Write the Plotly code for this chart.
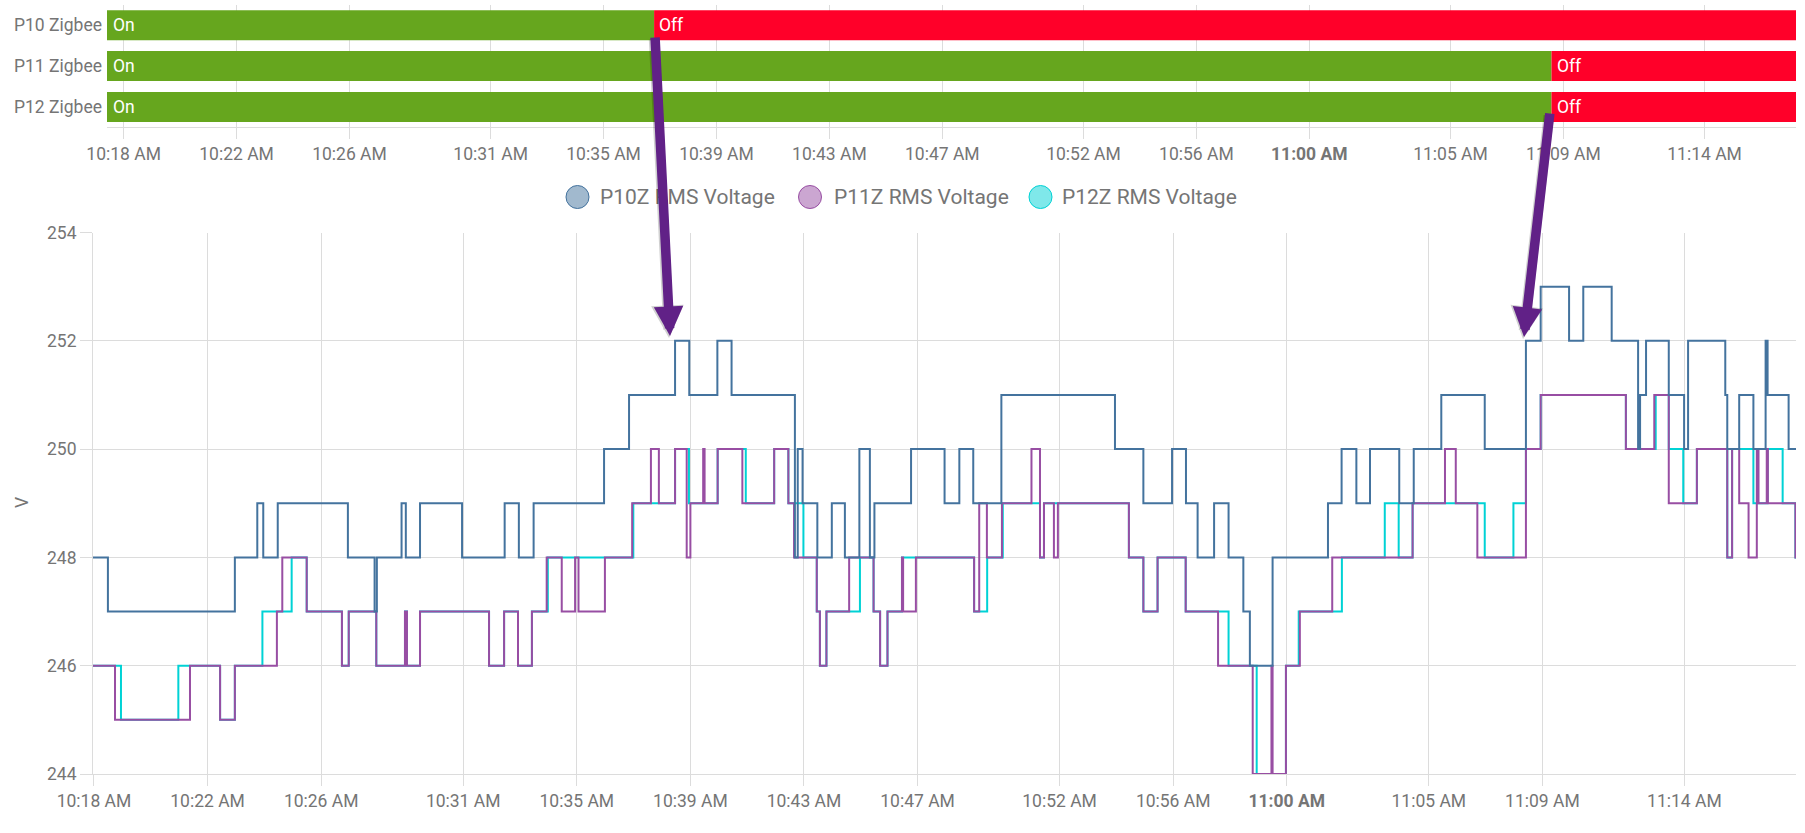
import pandas as pd
import plotly.graph_objects as go

W, H = 1805, 833
BASE = pd.Timestamp("2023-01-01 10:18:00")

tick_minutes = [0, 4, 8, 13, 17, 21, 25, 29, 34, 38, 42, 47, 51, 56]
tick_labels = ["10:18 AM", "10:22 AM", "10:26 AM", "10:31 AM", "10:35 AM", "10:39 AM", "10:43 AM",
               "10:47 AM", "10:52 AM", "10:56 AM", "<b>11:00 AM</b>", "11:05 AM", "11:09 AM", "11:14 AM"]

devices = ["P10 Zigbee", "P11 Zigbee", "P12 Zigbee"]
off_start_minutes = [18.79, 50.58, 50.58]
timeline_start = -0.59
timeline_end = 59.24

series_names = ["P10Z RMS Voltage", "P11Z RMS Voltage", "P12Z RMS Voltage"]

p10_minutes = [-0.04, 0.49, 4.96, 5.75, 5.96, 6.47, 8.94, 9.88, 9.96, 10.83, 10.98, 11.48, 12.96, 14.46, 14.96, 15.48,
               17.96, 18.84, 20.46, 20.96, 21.95, 22.45, 24.68, 24.78, 24.95, 25.47, 25.98, 26.44, 26.95, 27.32, 27.48,
               28.77, 29.95, 30.47, 30.96, 31.95, 35.95, 36.95, 37.96, 38.45, 38.86, 39.44, 39.95, 40.47, 40.70, 41.50,
               43.45, 43.93, 44.45, 44.93, 45.96, 46.47, 47.44, 48.97, 50.42, 50.94, 51.94, 52.44, 53.44, 54.37, 54.44,
               54.65, 55.45, 55.99, 56.13, 57.44, 57.51, 57.93, 58.43, 58.86, 58.93, 59.67, 59.93]
p10_volts = [248, 247, 248, 249, 248, 249, 248, 247, 248, 249, 248, 249, 248, 249, 248, 249,
             250, 251, 252, 251, 252, 251, 248, 250, 249, 248, 249, 248, 250, 248, 249,
             250, 249, 250, 249, 251, 250, 249, 250, 249, 248, 249, 248, 247, 246, 248,
             249, 250, 249, 250, 249, 250, 251, 250, 252, 253, 252, 253, 252, 250, 251,
             252, 251, 250, 252, 251, 250, 251, 250, 252, 251, 250, 250]

p11_minutes = [-0.04, 0.74, 3.38, 4.44, 4.96, 6.44, 6.63, 7.49, 8.73, 8.97, 9.94, 10.95, 11.02, 11.48, 13.91, 14.44,
               14.93, 15.42, 15.94, 16.47, 16.94, 17.06, 17.99, 18.95, 19.61, 19.89, 20.46, 20.87, 21.00, 21.45, 21.50,
               21.96, 22.83, 23.95, 24.45, 24.65, 25.45, 25.56, 25.79, 26.59, 27.45, 27.68, 27.94, 28.45, 28.49, 28.94,
               30.99, 31.17, 31.44, 31.97, 33.01, 33.31, 33.45, 33.80, 33.94, 36.44, 36.95, 37.45, 38.44, 39.58, 40.80,
               41.46, 41.50, 41.97, 42.46, 43.60, 46.43, 47.57, 47.95, 48.71, 50.42, 50.94, 53.94, 54.94, 55.45, 56.44,
               57.51, 57.68, 57.93, 58.26, 58.55, 58.61, 58.90, 58.94, 59.91, 59.93]
p11_volts = [246, 245, 246, 245, 246, 247, 248, 247, 246, 247, 246, 247, 246, 247, 246, 247,
             246, 247, 248, 247, 248, 247, 248, 249, 250, 249, 250, 248, 249, 250, 249,
             250, 249, 250, 249, 248, 247, 246, 247, 248, 247, 246, 247, 248, 247, 248,
             247, 249, 248, 249, 250, 248, 249, 248, 249, 248, 247, 248, 247, 246, 244,
             246, 244, 246, 247, 248, 249, 250, 249, 248, 250, 251, 250, 251, 249, 250,
             248, 250, 249, 248, 250, 249, 250, 249, 248, 248]

p12_minutes = [-0.04, 0.95, 2.97, 4.44, 4.96, 5.93, 6.96, 7.49, 8.73, 8.97, 9.94, 10.95, 11.02, 11.48, 13.91, 14.44,
               14.93, 15.42, 15.98, 18.99, 20.46, 20.95, 21.96, 22.95, 23.95, 24.45, 24.98, 25.45, 25.56, 25.79, 26.97,
               27.45, 27.68, 27.94, 28.45, 30.99, 31.45, 32.00, 33.31, 33.45, 36.44, 36.95, 37.45, 38.44, 39.95, 40.94,
               41.97, 42.42, 43.94, 45.45, 45.94, 46.43, 48.97, 49.98, 50.42, 50.94, 53.94, 54.99, 55.45, 55.96, 56.44,
               57.51, 57.68, 58.43, 58.93, 59.46, 59.91, 59.93]
p12_volts = [246, 245, 246, 245, 246, 247, 248, 247, 246, 247, 246, 247, 246, 247, 246, 247,
             246, 247, 248, 249, 250, 249, 250, 249, 250, 249, 248, 247, 246, 247, 248,
             247, 246, 247, 248, 247, 248, 249, 248, 249, 248, 247, 248, 247, 246, 244,
             246, 247, 248, 249, 248, 249, 248, 249, 250, 251, 250, 251, 250, 249, 250,
             248, 250, 249, 250, 249, 248, 248]

BLUE, PURPLE, CYAN = "#44739e", "#984ea3", "#00d2d5"
GREEN, RED = "#66a61e", "#ff0029"
TEXT = "#757575"
GRID = "#dcdcdc"
ARROW = "#612187"
FONT = "Roboto"


def when(minutes):
    return BASE + pd.to_timedelta(minutes, unit="m")


def px_x(p):
    return p / W


def px_y(p):
    return 1 - p / H


fig = go.Figure()

# Timeline rows on top
for state, color, starts, ends in [
    ("On", GREEN, [timeline_start] * 3, off_start_minutes),
    ("Off", RED, off_start_minutes, [timeline_end] * 3),
]:
    fig.add_trace(go.Bar(
        y=devices,
        x=[(e - s) * 60000 for s, e in zip(starts, ends)],
        base=[when(s) for s in starts],
        orientation="h", width=0.735,
        marker=dict(color=color, line=dict(width=0)),
        name=state, showlegend=False, xaxis="x2", yaxis="y2", hoverinfo="skip",
    ))

# Voltage step lines; first-named series draws last so it sits on top
for name, xs, ys, color in [
    (series_names[2], p12_minutes, p12_volts, CYAN),
    (series_names[1], p11_minutes, p11_volts, PURPLE),
    (series_names[0], p10_minutes, p10_volts, BLUE),
]:
    fig.add_trace(go.Scatter(
        x=[when(m) for m in xs], y=ys, name=name, mode="lines",
        line=dict(color=color, width=2, shape="hv"), showlegend=False,
    ))

tick_times = [when(m) for m in tick_minutes]
axis_font = dict(family=FONT, size=17.5, color=TEXT)

fig.update_layout(
    width=W, height=H, autosize=False,
    margin=dict(l=0, r=0, t=0, b=0),
    paper_bgcolor="white", plot_bgcolor="white",
    font=dict(family=FONT, color=TEXT, size=17.5),
    barmode="overlay",
    xaxis=dict(
        type="date", domain=[px_x(93), px_x(1796)], anchor="y", automargin=False,
        range=[when(-0.035), when(59.93)],
        tickmode="array", tickvals=tick_times, ticktext=tick_labels,
        showgrid=True, gridcolor=GRID, gridwidth=1, showline=True, linecolor=GRID, linewidth=1,
        ticks="outside", ticklen=11, tickcolor=GRID, tickwidth=1, tickfont=axis_font, tickangle=0, zeroline=False,
    ),
    yaxis=dict(
        domain=[px_y(774), px_y(232.5)], anchor="x", automargin=False,
        range=[244, 254], tickmode="array", tickvals=[244, 246, 248, 250, 252, 254],
        showgrid=True, gridcolor=GRID, gridwidth=1, showline=True, linecolor=GRID, linewidth=1,
        ticks="outside", ticklen=12, tickcolor=GRID, tickwidth=1, tickfont=axis_font, zeroline=False,
    ),
    xaxis2=dict(
        type="date", domain=[px_x(107), px_x(1796)], anchor="y2", automargin=False,
        range=[when(timeline_start), when(timeline_end)],
        tickmode="array", tickvals=tick_times, ticktext=tick_labels,
        showgrid=True, gridcolor=GRID, gridwidth=1, showline=True, linecolor=GRID, linewidth=1,
        ticks="outside", ticklen=11, tickcolor=GRID, tickwidth=1, tickfont=axis_font, tickangle=0, zeroline=False,
    ),
    yaxis2=dict(
        domain=[px_y(127), px_y(5)], anchor="x2", type="category", automargin=False,
        categoryorder="array", categoryarray=devices, ticklabelstandoff=4,
        range=[2.49, -0.495], showgrid=False, showline=False, ticks="", tickfont=axis_font, zeroline=False,
    ),
)

# Legend as circles and text, then the overlaid arrows
shapes = []
annotations = []
for name, cx, tx, color, fill in [
    (series_names[0], 577.5, 598, BLUE, "rgba(68,115,158,0.5)"),
    (series_names[1], 810, 832, PURPLE, "rgba(152,78,163,0.5)"),
    (series_names[2], 1040.5, 1060, CYAN, "rgba(0,210,213,0.5)"),
]:
    shapes.append(dict(type="circle", xref="paper", yref="paper",
                       x0=px_x(cx - 11.5), x1=px_x(cx + 11.5), y0=px_y(197 + 11.5), y1=px_y(197 - 11.5),
                       fillcolor=fill, line=dict(color=color, width=1)))
    annotations.append(dict(xref="paper", yref="paper", x=px_x(tx), y=px_y(197), text=name, showarrow=False,
                            xanchor="left", yanchor="middle", font=dict(family=FONT, size=21, color=TEXT)))

# On/Off labels on the timeline bars
for dev, off_at in zip(devices, off_start_minutes):
    annotations.append(dict(xref="x2", yref="y2", x=when(timeline_start), y=dev, text="On", showarrow=False,
                            xanchor="left", yanchor="middle", xshift=4, font=dict(family=FONT, size=17.5, color="white")))
    annotations.append(dict(xref="x2", yref="y2", x=when(off_at), y=dev, text="Off", showarrow=False,
                            xanchor="left", yanchor="middle", xshift=3, font=dict(family=FONT, size=17.5, color="white")))

annotations.append(dict(xref="paper", yref="paper", x=px_x(22), y=px_y(503), text="V", showarrow=False,
                        textangle=-90, xanchor="center", yanchor="middle", font=dict(family=FONT, size=17.5, color=TEXT)))

for tip_x, tip_y, ax, ay in [(670, 336, -15, -300), (1524, 337, 26, -225)]:
    annotations.append(dict(xref="paper", yref="paper", x=px_x(tip_x - 1), y=px_y(tip_y + 2), ax=ax, ay=ay, text="",
                            showarrow=True, arrowhead=2, arrowsize=0.62, arrowwidth=10.5,
                            arrowcolor="rgba(0,0,0,0.18)", standoff=0))
    annotations.append(dict(xref="paper", yref="paper", x=px_x(tip_x), y=px_y(tip_y), ax=ax, ay=ay, text="",
                            showarrow=True, arrowhead=2, arrowsize=0.62, arrowwidth=9.5, arrowcolor=ARROW, standoff=0))

fig.update_layout(shapes=shapes, annotations=annotations)

fig.write_html("out.html", config=dict(displayModeBar=False), post_script="document.body.style.margin='0';")
